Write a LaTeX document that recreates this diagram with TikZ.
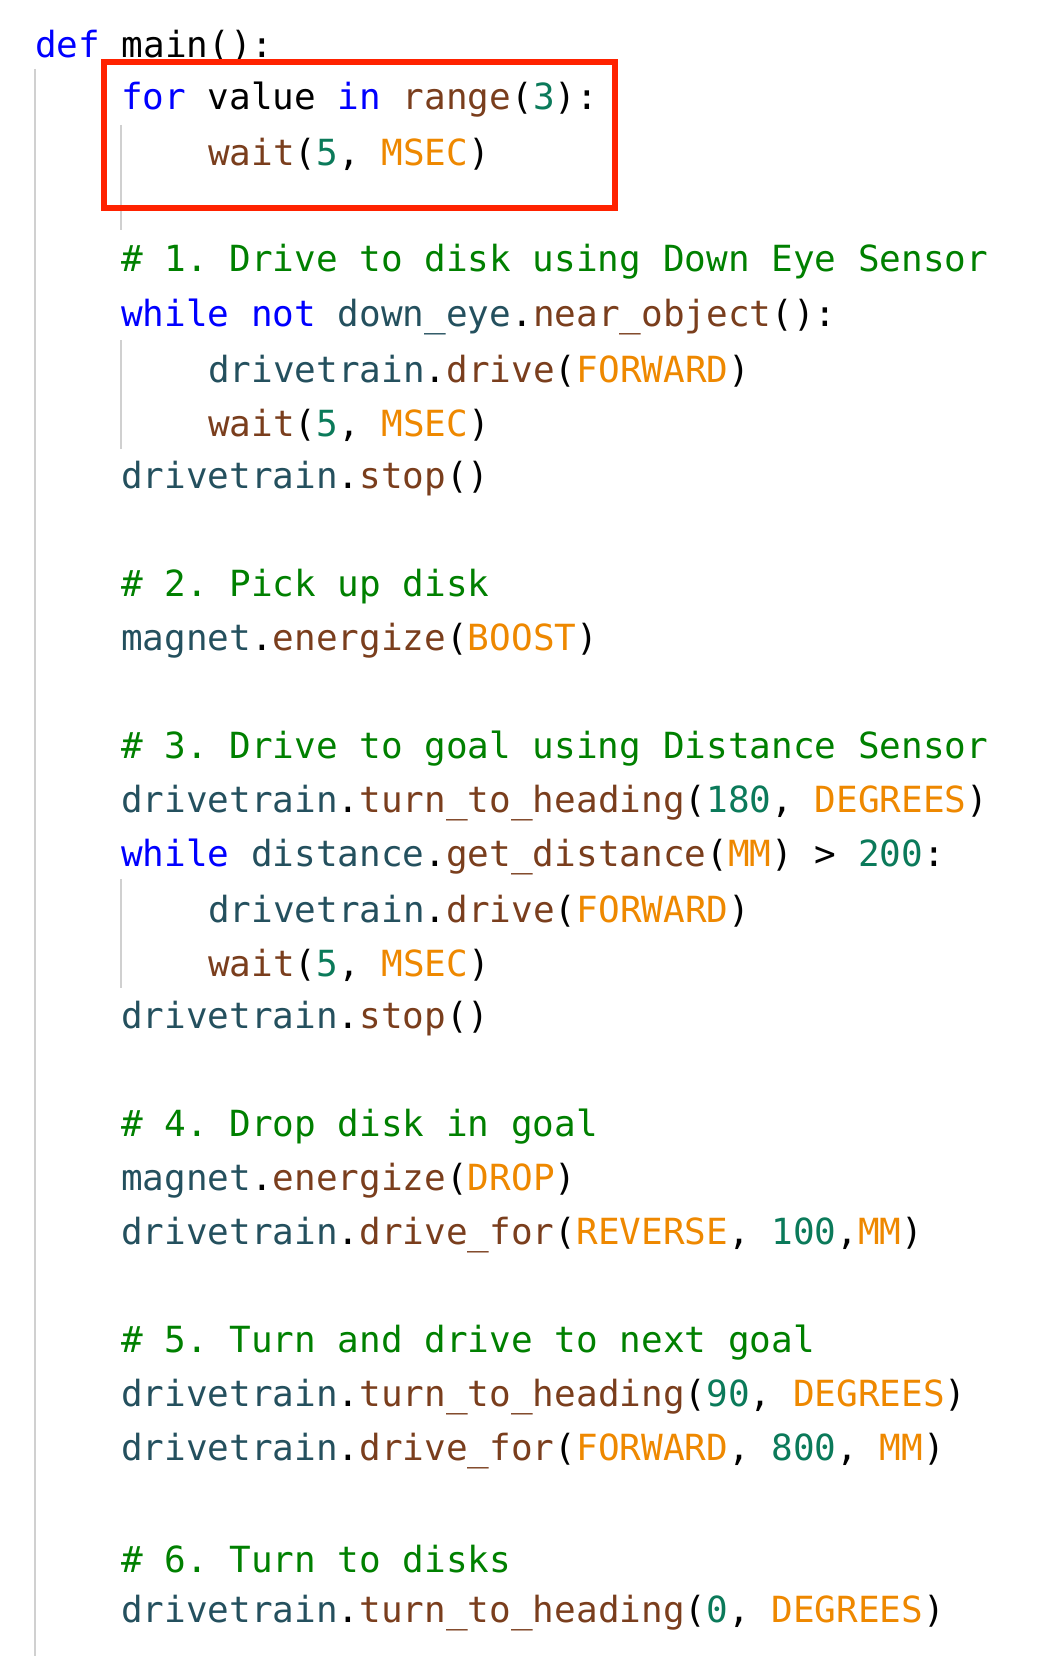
\documentclass[tikz,border=0pt]{standalone}
\usepackage{fontspec}
\setmonofont{DejaVu Sans Mono}
\definecolor{kwblue}{HTML}{0000FF}
\definecolor{fnbrown}{HTML}{7A3E1D}
\definecolor{numgreen}{HTML}{0B7A5A}
\definecolor{cstorange}{HTML}{EE8800}
\definecolor{cmtgreen}{HTML}{008000}
\definecolor{idteal}{HTML}{24505E}
\definecolor{guidegrey}{HTML}{D0D0D0}
\definecolor{boxred}{HTML}{FF2200}
\newcommand{\kw}[1]{\textcolor{kwblue}{#1}}
\newcommand{\fn}[1]{\textcolor{fnbrown}{#1}}
\newcommand{\nm}[1]{\textcolor{numgreen}{#1}}
\newcommand{\cs}[1]{\textcolor{cstorange}{#1}}
\newcommand{\cm}[1]{\textcolor{cmtgreen}{#1}}
\newcommand{\vid}[1]{\textcolor{idteal}{#1}}
\tikzset{
    code/.style={anchor=west,inner sep=0pt,yshift=-4pt,font=\fontsize{36}{40}\ttfamily},
    guide/.style={guidegrey,line width=1.6pt},
}
\begin{document}
\begin{tikzpicture}[x=1pt,y=-1pt]
    \useasboundingbox (0,0) rectangle (1040,1656);
    % indent guides
    \draw[guide] (35,69) -- (35,1656);
    \draw[guide] (121,125) -- (121,230);
    \draw[guide] (121,340) -- (121,449);
    \draw[guide] (121,879) -- (121,988);
    % code lines
    \node[code] (l0) at (35,42) {\kw{def} main():};
    \node[code] (l1) at (121,96) {\kw{for} value \kw{in} \fn{range}(\nm{3}):};
    \node[code] (l2) at (208,150) {\fn{wait}(\nm{5}, \cs{MSEC})};
    \node[code] (l4) at (121,258) {\cm{\# 1. Drive to disk using Down Eye Sensor}};
    \node[code] (l5) at (121,313) {\kw{while} \kw{not} \vid{down\_eye}.\fn{near\_object}():};
    \node[code] (l6) at (208,367) {\vid{drivetrain}.\fn{drive}(\cs{FORWARD})};
    \node[code] (l7) at (208,421) {\fn{wait}(\nm{5}, \cs{MSEC})};
    \node[code] (l8) at (121,475) {\vid{drivetrain}.\fn{stop}()};
    \node[code] (l10) at (121,583) {\cm{\# 2. Pick up disk}};
    \node[code] (l11) at (121,637) {\vid{magnet}.\fn{energize}(\cs{BOOST})};
    \node[code] (l13) at (121,745) {\cm{\# 3. Drive to goal using Distance Sensor}};
    \node[code] (l14) at (121,799) {\vid{drivetrain}.\fn{turn\_to\_heading}(\nm{180}, \cs{DEGREES})};
    \node[code] (l15) at (121,853) {\kw{while} \vid{distance}.\fn{get\_distance}(\cs{MM}) > \nm{200}:};
    \node[code] (l16) at (208,907) {\vid{drivetrain}.\fn{drive}(\cs{FORWARD})};
    \node[code] (l17) at (208,961) {\fn{wait}(\nm{5}, \cs{MSEC})};
    \node[code] (l18) at (121,1015) {\vid{drivetrain}.\fn{stop}()};
    \node[code] (l20) at (121,1123) {\cm{\# 4. Drop disk in goal}};
    \node[code] (l21) at (121,1177) {\vid{magnet}.\fn{energize}(\cs{DROP})};
    \node[code] (l22) at (121,1231) {\vid{drivetrain}.\fn{drive\_for}(\cs{REVERSE}, \nm{100},\cs{MM})};
    \node[code] (l24) at (121,1339) {\cm{\# 5. Turn and drive to next goal}};
    \node[code] (l25) at (121,1393) {\vid{drivetrain}.\fn{turn\_to\_heading}(\nm{90}, \cs{DEGREES})};
    \node[code] (l26) at (121,1447) {\vid{drivetrain}.\fn{drive\_for}(\cs{FORWARD}, \nm{800}, \cs{MM})};
    \node[code] (l28) at (121,1555) {\cm{\# 6. Turn to disks}};
    \node[code] (l29) at (121,1609) {\vid{drivetrain}.\fn{turn\_to\_heading}(\nm{0}, \cs{DEGREES})};
    % highlight box
    \draw[boxred,line width=6pt] (104,62) rectangle (615,208);
\end{tikzpicture}
\end{document}
